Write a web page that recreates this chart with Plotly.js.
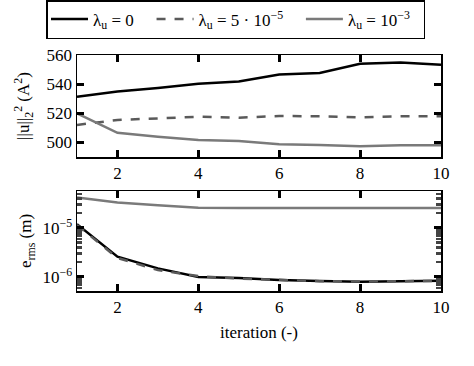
<!DOCTYPE html>
<html><head><meta charset="utf-8">
<script src="https://cdn.plot.ly/plotly-3.0.1.min.js"></script>
<style>html,body{margin:0;padding:0;background:#fff}#c{width:474px;height:366px}</style>
</head><body><div id="c"></div>
<script>
const iterations = [1,2,3,4,5,6,7,8,9,10];
const normLam0    = [531.4,534.9,537.4,540.2,541.8,546.6,547.6,554.0,554.9,553.3];
const normLam5e5  = [512.0,515.4,516.5,517.6,517.0,518.1,518.0,517.2,518.0,518.0];
const normLam1e3  = [520.0,506.6,503.9,501.6,500.9,498.8,498.3,497.4,498.1,498.1];
const ermsLam0    = [1.2e-5,2.6e-6,1.5e-6,1.0e-6,9.5e-7,8.7e-7,8.3e-7,8.0e-7,8.2e-7,8.4e-7];
const ermsLam5e5  = [1.15e-5,2.45e-6,1.38e-6,1.04e-6,9.3e-7,8.6e-7,8.2e-7,8.1e-7,8.2e-7,8.3e-7];
const ermsLam1e3  = [4.2e-5,3.3e-5,2.9e-5,2.6e-5,2.56e-5,2.55e-5,2.55e-5,2.55e-5,2.55e-5,2.55e-5];
const legendNames = ['λ<sub>u</sub> = 0\u00a0\u00a0\u00a0','λ<sub>u</sub> = 5 · 10<sup>−5</sup>\u00a0\u00a0\u00a0','λ<sub>u</sub> = 10<sup>−3</sup>\u00a0\u00a0'];
const xTicks = [2,4,6,8,10];
const topTicks = [500,520,540,560];
const logTicks = [1e-6,1e-5];
const logTickText = ['10<sup>−6</sup>','10<sup>−5</sup>'];

const F = 'Liberation Serif';
const FS = 17;
const styles = [
  {color:'#000000', width:2.5, dash:'solid'},
  {color:'#5a5a5a', width:2.5, dash:'dash'},
  {color:'#7a7a7a', width:2.5, dash:'solid'}
];
const topSeries = [normLam0, normLam5e5, normLam1e3];
const botSeries = [ermsLam0, ermsLam5e5, ermsLam1e3];
const traces = [];
topSeries.forEach((s,i)=>traces.push({x:iterations,y:s,xaxis:'x',yaxis:'y',mode:'lines',name:legendNames[i],
  line:styles[i],showlegend:true,legendgroup:'g'+i}));
botSeries.forEach((s,i)=>traces.push({x:iterations,y:s,xaxis:'x2',yaxis:'y2',mode:'lines',name:legendNames[i],
  line:styles[i],showlegend:false,legendgroup:'g'+i}));

const minorVals = [];
[1e-7,1e-6,1e-5].forEach(d=>{for(let k=2;k<=9;k++) minorVals.push(k*d);});

const axCommon = {showline:true,linecolor:'#000',linewidth:1.5,mirror:'ticks',ticks:'inside',ticklen:7,
  tickcolor:'#000',tickwidth:3,showgrid:false,zeroline:false,tickfont:{family:F,size:FS,color:'#000'}};
const layout = {
  width:474,height:366,margin:{l:0,r:0,t:0,b:0},paper_bgcolor:'#fff',plot_bgcolor:'#fff',
  font:{family:F,color:'#000'},
  showlegend:true,
  legend:{orientation:'h',x:46/474,y:1,xanchor:'left',yanchor:'top',bordercolor:'#000',borderwidth:1.5,
    font:{family:F,size:FS,color:'#000'},bgcolor:'#fff',itemwidth:37},
  xaxis:Object.assign({},axCommon,{domain:[77/474,441/474],range:[1,10],tickvals:xTicks,anchor:'y'}),
  yaxis:Object.assign({},axCommon,{domain:[1-157/366,1-55/366],range:[490,560],tickvals:topTicks,anchor:'x',
    title:{text:'||u||<sub>2</sub><sup>2</sup> (A<sup>2</sup>)',font:{family:F,size:FS,color:'#000'},standoff:12}}),
  xaxis2:Object.assign({},axCommon,{domain:[77/474,441/474],range:[1,10],tickvals:xTicks,anchor:'y2',
    title:{text:'iteration (-)',font:{family:F,size:FS,color:'#000'},standoff:10}}),
  yaxis2:Object.assign({},axCommon,{domain:[1-291/366,1-191/366],type:'log',range:[-6.286,-4.245],
    tickvals:logTicks,ticktext:logTickText,anchor:'x2',
    minor:{tickvals:minorVals,ticks:'inside',ticklen:5,tickcolor:'#444',tickwidth:2.5,showgrid:false},
    title:{text:'e<sub>rms</sub> (m)',font:{family:F,size:FS,color:'#000'},standoff:6}})
};
Plotly.newPlot('c',traces,layout,{staticPlot:true,displayModeBar:false});
</script></body></html>
